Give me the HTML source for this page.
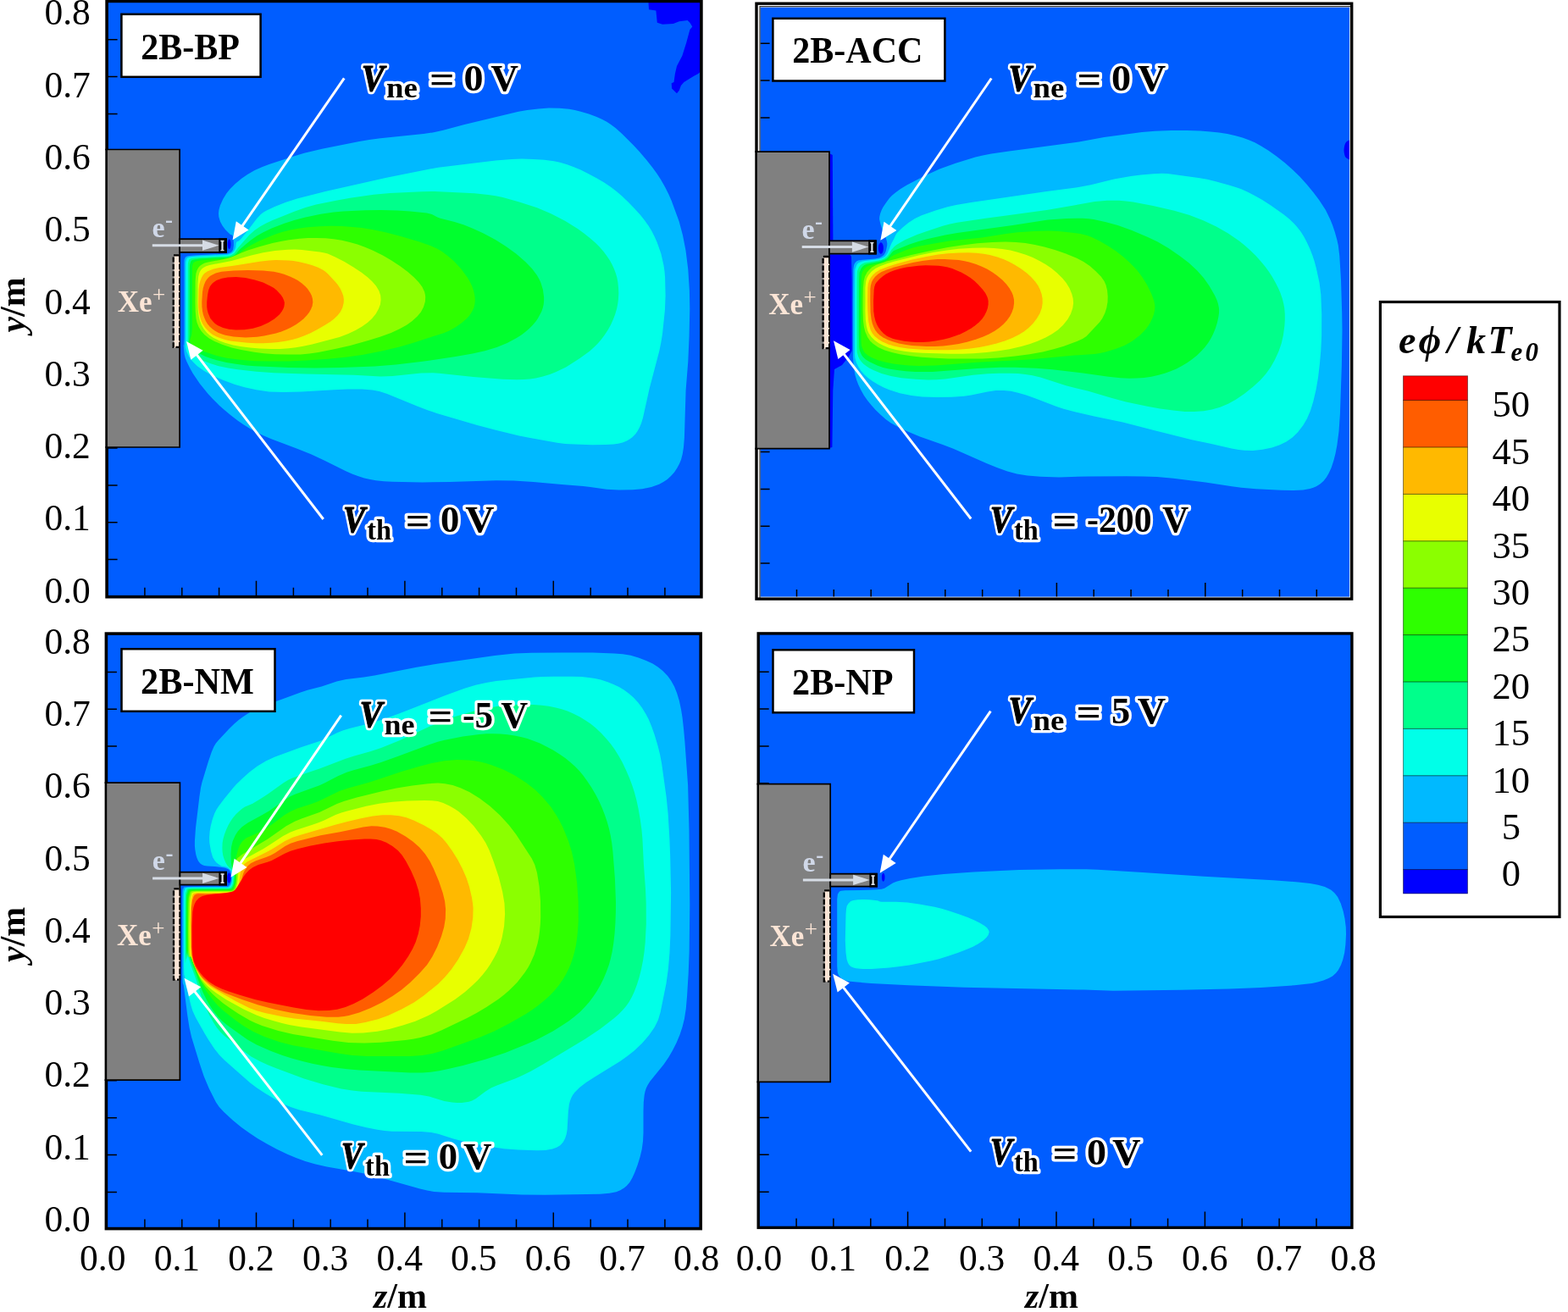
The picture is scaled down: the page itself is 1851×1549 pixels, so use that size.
<!DOCTYPE html>
<html lang="en"><head><meta charset="utf-8"><title>Plasma potential contours</title>
<style>html,body{margin:0;padding:0;background:#fff}body{width:1851px;height:1549px;overflow:hidden}svg{display:block}text{font-family:"Liberation Serif", "DejaVu Serif", serif}.tk{font-size:43.5px;fill:#000}.ax{font-size:42px;font-weight:bold;fill:#000}.lb{font-weight:bold;fill:#000}.an2{font-weight:bold;fill:#000;stroke:#000;stroke-width:1.1px;stroke-linejoin:round}.an{font-weight:bold;fill:#000;stroke:#fff;stroke-width:6.6px;stroke-linejoin:round;paint-order:stroke fill}</style></head><body>
<svg xmlns="http://www.w3.org/2000/svg" width="1851" height="1549" viewBox="0 0 1851 1549">
<rect width="1851" height="1549" fill="#fff"/>
<defs>
<clipPath id="cp1"><rect x="126.1" y="1.4" width="701.8" height="703.3"/></clipPath>
<clipPath id="cp2"><rect x="893" y="4.2" width="702.7" height="702.9"/></clipPath>
<clipPath id="cp3"><rect x="125.4" y="748.1" width="701.8" height="702.5"/></clipPath>
<clipPath id="cp4"><rect x="895.2" y="747.9" width="700.7" height="701.5"/></clipPath>
</defs>
<g id="panel1">
<g clip-path="url(#cp1)" shape-rendering="geometricPrecision">
<rect x="126.1" y="1.4" width="701.8" height="703.3" fill="#005dff"/>
<path d="M217.5 311.7L217.6 306.8L218.3 304.7L218.8 303.8L219.7 303L221.7 302.3L228.7 301.5L268.4 299.4L272.1 298.2L273.9 296.8L275.1 294.7L275.9 289.5L275.8 285L275 279.4L274.6 278.3L273.9 277.6L271.7 276.7L265.9 271.1L262.6 266.5L260 261.7L258.3 256.1L258 252L258.4 247.9L259.9 242.6L263.3 235L267.4 228.3L271.7 223L277.7 217L285.2 210.8L292.1 205.9L300.7 201.1L309.8 197L317.7 194L345.1 184.9L359.1 180.7L380.2 175.8L424.1 167L435.9 165L449.1 163.2L500 158.1L513.2 156.1L523.3 153.8L547.4 147.3L600.6 134.4L612.1 131.8L622.3 130L635.3 128.4L647.9 127.6L660.4 127.7L671.7 128.7L678.6 129.9L685.5 131.7L695 134.6L704.4 138L711 141L716.2 143.8L721.1 146.9L726.8 151.3L734.3 158L748.3 172L755 179.3L763.3 189L770.4 197.9L775.5 204.9L780.2 212.3L785.3 221.3L789.3 229.3L792.8 237.3L801.6 261.3L806 277.7L809.5 295.8L812.3 318.1L813.9 343L814.3 364.2L813.6 397.1L812.3 427.1L809.6 460.8L807.9 516.7L807 528.1L805.7 536.2L804 542.7L801.9 547.8L799.2 552.8L795.9 557.7L792 562.1L787.7 565.9L783.1 569.1L778.1 571.7L769 575L758.2 577.2L746.9 578.2L730.7 578.4L716.1 577.7L696.8 574.9L688.4 574L663.1 572.1L629.7 568.9L606.5 567.5L585.9 567.3L530.7 569L498.6 569.4L463.1 568.8L453.3 568.2L443.8 567.2L436.9 566L430 564.4L423.1 562.3L416.2 559.8L408.3 556.3L382.6 543.5L367.1 536.3L350.8 529.7L320.3 518.3L310.9 514.2L303.2 510.5L294.6 505.8L287.4 501.3L280.5 496.5L272.7 490.5L265.2 484.3L258.9 478.7L251.4 471.2L245.4 464.8L235.7 452.8L227.6 440.8L224 434.3L220.2 426.6L218.7 422.7L217.7 418.4L216.7 408L216.7 407.1L217 407.5L217.2 407.1L217.5 399.1Z" fill="#00b9ff"/>
<path d="M219.3 313.3L219.4 309.3L220.4 305.3L221.2 304.5L222.9 303.8L231.5 302.7L267.2 301L269.9 300.5L273.6 298.9L275.8 297.1L277.3 294.5L278.3 291.7L278.8 287.1L279.2 285.9L279.9 285.2L282 284.4L284.9 281.6L292.4 272.3L303.4 257.8L307.9 253.1L311.2 250.6L314.8 248.4L324.3 244L336.9 239L350.8 234.6L384.2 226.1L456.4 209.8L502.6 200.4L517.5 197.8L585.1 189.6L604.2 187.9L616 187.6L629.4 187.9L642.5 188.8L653.9 190.3L661 191.8L669.4 194.3L677.5 197.3L685.4 200.6L694.3 204.9L704.6 210.5L713.2 215.6L721.3 221.1L728.1 226.3L734.8 232.1L742.3 239.3L749.5 246.7L756.1 254.1L761.4 260.8L765.5 266.6L769.3 272.8L772.6 279.3L775.6 286L780.3 299.3L783.4 313.1L784.5 320.3L785.1 327.5L785.6 349.2L784.9 366.6L782 393.9L780.4 404.1L778.4 414.1L766.5 459.2L759.1 492.8L757.1 499.5L755 504.6L752.4 509.2L750.1 512.4L746.4 516.2L743.3 518.5L739.9 520.5L735 522.5L729.8 523.8L724.3 524.6L714.5 525.1L699.1 525.2L678.3 524.6L667.2 524L657.7 522.8L624.5 516.8L612.9 514.4L586.2 508L563.4 502.1L515.7 487.9L504.7 484.2L492.4 479.6L457 465L447.8 462.1L439.8 460.5L427.7 459.5L410.3 459.5L393.8 460.2L355.3 462.6L334.8 463.1L317.9 462.4L302.7 460.3L288.8 457.3L276.7 453.8L263.3 448.8L250 443L240.7 437.8L232.9 432.3L227.3 426.7L224.8 423.6L222.7 420.2L220.3 415.3L218.9 409.9L219.2 400Z" fill="#00ffe8"/>
<path d="M221.8 315L221.9 310.9L222.9 307L223.5 306.2L225.9 305.1L231 304.3L239.5 303.7L267.5 302.4L270.7 301.9L273.2 301.1L276.7 298.7L281 292.4L294 277.8L300.4 272.1L307.4 267.3L313.8 263.8L321.8 260.1L346.7 250L360.6 245L373.1 241.5L398.1 236.4L413.3 233.7L441.1 229.7L460.5 228.1L498.2 226.2L513.1 226L560.1 228.3L576.2 229.9L585 231.2L593.5 233L613 238.4L634 245.3L650.4 252.2L667.4 261L682.2 270.2L689.4 275.5L696.3 280.9L702.7 286.6L707.7 291.5L712.3 296.8L715.7 301.2L719.6 307.1L722.4 312.1L724.9 317.4L726.9 322.7L728.4 328.1L729.4 333.6L730 339.4L730.3 346.6L729.9 353.6L729.2 359.1L728.1 364.5L726.1 371.3L724 376.7L721 383.4L717.5 389.7L713.7 395.6L709.4 401.2L705.7 405.5L701.7 409.6L696.2 414.4L684.5 423.1L668.1 433.4L656 439.2L649.1 441.9L640.8 444.5L632.4 446.4L625.5 447.5L618.6 448L610.2 448.3L593.6 447.7L558.8 445.1L518.5 440.7L511.4 440.2L496.9 440.6L463.3 444.1L449.4 444.6L417.8 442.8L360.4 441.6L323.5 440.2L302.8 438.8L280.4 436.3L269.3 434.5L258.3 432.2L248.6 429.3L240.9 426.3L235 423L229.5 419L224.6 414.1L221.3 409.2L220.6 407.3L220.9 407.4L221.2 406.7L221.7 400Z" fill="#00ff8b"/>
<path d="M223.9 316.7L224.1 312.5L225.2 308.7L225.8 307.8L227.1 307.1L230.1 306.2L236.2 305.4L267.2 303.7L270.6 303.4L273.9 302.5L276.3 301.4L278.3 300L283.5 294.1L295.8 283.7L302.8 278.8L310.3 274.4L320.7 269.5L335.7 263.8L348.1 259.7L360.6 256.5L378.6 252.8L393.9 250.5L405 249.5L431.4 248.3L449.4 248.1L468.9 248.6L484.2 249.6L503.9 251.6L509.8 253.1L516.4 256.4L519.8 257.7L536.6 262L547.7 265.6L558.7 269.9L570.7 275.4L584.8 283L597.4 290.9L609.5 299.8L620.4 309.2L628.1 317.3L633.9 325.1L636.7 329.9L638.4 333.7L640.9 341.9L642.1 350.7L642.1 355.2L641.7 359.5L640.7 363.7L639.3 367.8L635.2 375.5L632.7 379.2L628.9 383.8L624.7 388L620.3 391.8L615.8 395.2L609.9 399L598.7 405L586.5 410L572.4 414.3L557.8 417.6L537.8 421L496.9 427.1L467.3 430.4L442.3 432.4L402.5 434.1L371.7 434.6L340.7 434.1L301 432.3L290.9 431.4L278.5 429.8L267.3 428L259 426.1L250.8 423.8L242.7 420.9L236.7 418L231.6 414.8L224.8 409.1L223 406.8L222.3 404.7L223.4 400.8L223.8 395Z" fill="#00ff2e"/>
<path d="M226.8 318.3L227 314L227.9 311.1L228.5 310L230 309L233.1 308L237.8 307.3L267.3 305.3L271.1 304.8L274.9 303.9L277.5 302.9L280 301.5L285.6 296.3L291.2 292.5L297.1 289L305.9 284.6L316.4 279.9L324.5 276.7L332.8 274.1L342.5 271.6L352.2 269.7L363.3 268.3L377.2 267.2L391.1 266.7L403.6 267L416.1 267.9L427.2 269.1L439.7 271.1L455 274.2L471.5 278.4L493.7 285L508 289.9L515.9 293.5L521.9 297L528.5 301.9L535.8 308.2L544.4 317.4L551.9 327.8L554.8 332.7L557.2 337.8L559.1 343L560 347L560.6 351L560.8 355.1L560.4 359.1L559.5 362.9L557.9 366.6L555.9 370.1L553.4 373.4L550.5 376.6L545 381.3L537.8 386.3L530.3 390.6L523.8 393.3L509.4 397.8L488.8 404.6L471.8 409.6L450.8 414.6L427.5 419L409.9 421.5L387.8 423.8L361.4 425.6L340.6 426.5L317.2 426.6L300.2 426.2L283 424.8L267.6 422.7L260.7 421.2L252.5 419.1L240.6 414.9L235.6 412.5L232.1 410.3L226.4 406.4L224.6 404.4L224.1 402L226.1 395.2L226.8 387.9Z" fill="#2eff00"/>
<path d="M230.5 356.7L230.6 331.5L231.3 323.3L232.5 319.2L234.2 316L235.9 314.1L239.2 311.8L241.8 310.6L245.7 309.4L262.1 306.5L270.4 304.6L274.5 303.1L285 298.4L292.6 295.6L306.2 291.3L321.7 287L331.4 284.9L341.1 283.3L353.6 281.8L363.3 281.1L373.1 280.9L384.2 281.3L393.9 282.3L403.6 283.8L412 285.7L422 288.6L431.4 292L440.3 295.7L451.9 301.6L462.1 307.5L472.4 314.3L481.4 321L488.8 327.5L494.5 333.4L498.4 338.8L501.1 344.5L501.9 348.1L502.2 350.7L501.9 355.9L500 362.4L496.8 368.4L492.6 373.5L486.6 379L480 383.7L471.8 388.3L461.7 392.9L448.5 397.8L435.5 401.8L413.4 408L395.6 412.1L375.8 416L365.2 417.6L354.8 418.4L339.8 418.6L324.9 418.2L311.7 417.2L300.2 415.8L284.7 413L273.5 410.4L262.2 406.8L252.8 402.8L246.9 399.4L241.2 395L237.5 390.8L234.6 386L232.5 380.8L231.4 375.6L230.7 367.3Z" fill="#8bff00"/>
<path d="M233.3 356.7L233.5 335.1L234.2 326.7L235.4 322L236.7 319.5L238.4 317.3L240.6 315.7L243.4 314.3L247.3 313L273.3 308L296.6 301.6L310.6 298.3L324.4 295.9L339.7 294.7L348.1 294.5L356.5 294.9L377.5 297.4L382.9 298.4L386.9 299.6L395.8 303.4L406.6 309.1L417.3 315.5L426.8 321.8L433.9 327.2L439.3 332.2L443.9 337.6L447.5 343.6L449.2 348.8L449.6 354.1L448.9 359.4L447 364.6L443.7 370.5L439.2 375.9L434.1 380.7L427.4 385.5L420.1 389.7L411.2 394L400.7 397.9L391.3 400.6L368.6 406.4L357.9 408.8L349.2 410.3L340.8 411.3L330.9 411.9L319.5 412L306.6 411.6L295.2 410.6L285.2 409.3L275.4 407.4L265.5 404.7L258.8 402.2L252.1 398.9L247.4 395.7L244.1 392.7L240.5 388.3L237.8 383.5L235.8 378.3L234.6 373L233.6 364.9Z" fill="#e8ff00"/>
<path d="M234.2 356.6L234.6 341.6L235.3 335.8L236.3 332L237.8 328.1L239.8 324.5L241.7 322.5L245.1 320.2L252.1 317.5L259 316.1L277.2 313.5L306.5 308.8L317.5 307.5L325.6 307L341.1 307.5L346.6 308L353.5 309.2L361.9 311.2L368.8 313.3L375.5 315.8L380.5 318.2L383.9 320.5L387 323.3L396.3 333.3L398.8 336.3L401.7 340.8L404 345.7L405.3 349.6L405.9 353.5L405.7 357.6L404.4 363L402 367.9L398.7 372.3L394.6 376.3L390.1 379.7L382.9 384.3L374.2 389.3L366.6 393.2L358.9 396.6L352.2 399L345.2 401L336.9 402.8L328.6 404L320.2 404.8L310.5 405.3L302.2 405.3L292.5 404.8L273 402.7L266.1 401.2L260.8 399.5L255.6 397.5L250.8 395L246.2 391.3L242.5 387.3L239.5 383.1L237.8 379.6L236.1 374.2L234.9 369L234.2 362.8Z" fill="#ffb900"/>
<path d="M238.3 356.6L239 344.7L239.8 340.3L241 336.1L242.5 332.5L244.1 329.9L246 327.7L248.3 325.8L250.6 324.4L254.6 322.6L261.5 320.8L275.6 319.5L292.6 319.1L310.6 319.4L323.1 320.8L330 322.2L335.3 323.8L341.7 326.2L346.7 328.4L351.5 331.1L356 334.3L360.3 338L363.1 341.1L366.1 345.4L367.9 349L369 352.9L369.3 357.1L368.6 361.2L367.1 365.1L365 368.8L362.5 372.1L358.5 376.2L354.2 379.8L349.7 382.9L343.6 386.4L338.3 389L332.8 391.2L325.8 393.4L318.8 395.1L311.9 396.5L303.6 397.7L289.7 398.4L275.7 397.6L266 395.8L262.1 394.6L258 392.9L254 390.7L250.6 388.3L247.5 385.5L245 382.5L242.9 379L241.3 375.3L239.9 371.4L239 367.2L238.4 362.1Z" fill="#ff5d00"/>
<path d="M244.2 356.6L245.1 348L246.3 342L248 338.1L249.5 335.9L251.3 334.1L255.5 331.1L261.9 328.7L268.7 327.4L278.6 327.1L289.7 328.1L300.8 330.4L310.6 333.6L319.7 337.9L323.3 340.1L326.7 342.8L331.5 347.9L333.7 351.2L335.2 354.7L335.8 357.2L335.7 359.8L335.2 362.5L334.2 365.1L332.8 367.6L330.2 370.9L327.2 373.8L323.9 376.5L316.7 381.1L307.9 384.9L298.6 387.7L288.5 389.2L278.6 389.5L270.3 388.7L263.3 387L257.1 384.2L253.8 382L251.8 380.1L248.4 375.9L245.8 370L244.7 365.9L244.2 362.1Z" fill="#ff0000"/>
<path d="M272.5 288.3C272.5 289.3 272.4 290.4 272.2 291.2C272.1 292 271.8 292.8 271.6 293.3C271.3 293.8 270.9 294.1 270.6 294.1C270.3 294.1 269.9 293.8 269.7 293.3C269.4 292.8 269.1 292 269 291.2C268.8 290.4 268.7 289.3 268.7 288.3C268.7 287.3 268.8 286.2 269 285.4C269.1 284.6 269.4 283.8 269.7 283.3C269.9 282.8 270.3 282.5 270.6 282.5C270.9 282.5 271.3 282.8 271.6 283.3C271.8 283.8 272.1 284.6 272.2 285.4C272.4 286.2 272.5 287.3 272.5 288.3Z" fill="#0000ff"/>
<path d="M765.3 0L766 11.2L774.4 12.6L775.8 26.7L782.1 28.8L794.8 28.1L801.8 25.3L811.6 23.9L814.4 26.7L817.3 31.6L814.4 35.1L810.2 50.6L805.3 66L799 78L796.9 87.1L795.5 96.9L792.7 98.3L793.1 104.6L799 110.3L801.8 106.8L803.9 101.1L807.4 96.9L818.7 89.9L824.3 87.1L828.5 82.9L828.5 0Z" fill="#0000ff"/>
</g>
<path d="M170.9 704.7V693.7M214.8 704.7V693.7M258.6 704.7V693.7M302.5 704.7V685.7M346.4 704.7V693.7M390.2 704.7V693.7M434 704.7V693.7M477.9 704.7V685.7M521.8 704.7V693.7M565.6 704.7V693.7M609.5 704.7V693.7M653.3 704.7V685.7M697.2 704.7V693.7M741 704.7V693.7M784.9 704.7V693.7M126.1 660.6H138.6M126.1 616.8H138.6M126.1 573H138.6M126.1 529.1H138.6M126.1 485.2H138.6M126.1 441.4H138.6M126.1 397.6H138.6M126.1 353.7H138.6M126.1 309.8H138.6M126.1 266H138.6M126.1 222.1H138.6M126.1 178.3H138.6M126.1 134.4H138.6M126.1 90.6H138.6M126.1 46.8H138.6" stroke="#000" stroke-width="1.5" fill="none"/>
<rect x="126.1" y="1.4" width="701.8" height="703.3" fill="none" stroke="#000" stroke-width="3.6"/>
<path d="M126.9 176.5H212.1V528H126.9Z" fill="#808080"/>
<path d="M124.3 176.5H212.1V528H124.3" fill="none" stroke="#000" stroke-width="1.7"/>
<rect x="212.1" y="282.2" width="54.9" height="15.7" fill="#808080" stroke="#000" stroke-width="1.8"/>
<rect x="258.3" y="281.3" width="9.6" height="17.5" fill="#000"/>
<path d="M260.4 283.8h4.2v1.4h-1v9.7h1v1.4h-4.2v-1.4h1v-9.7h-1z" fill="#dfe5ee"/>
<rect x="205.5" y="300.8" width="5.6" height="109.7" fill="#fbe5d6"/>
<path d="M211.1 301.4H204.7V409.9H211.1" fill="none" stroke="#000" stroke-width="2.3" stroke-dasharray="6.1 2.3"/>
<path d="M212.1 300.8V410.5" fill="none" stroke="#000" stroke-width="1.7"/>
<path d="M211.2 309.8V407.5" fill="none" stroke="#fbe5d6" stroke-width="2.0" stroke-dasharray="1.6 6.8"/>
<path d="M179.8 289.7H244.5" stroke="#d6dce5" stroke-width="3.0" fill="none"/>
<path d="M258.5 289.7L239 283.6L239 295.8Z" fill="#d6dce5"/>
<text x="179.5" y="279.7" font-size="34" font-weight="bold" fill="#d0d8e8">e<tspan dy="-11.5" dx="0.5" font-size="27">-</tspan></text>
<text x="138.7" y="368.2" font-size="35" font-weight="bold" fill="#fbe5d6">Xe<tspan dy="-11" dx="0.5" font-size="27" font-weight="normal">+</tspan></text>
</g>
<g id="panel2">
<g clip-path="url(#cp2)" shape-rendering="geometricPrecision">
<rect x="893" y="4.2" width="702.7" height="702.9" fill="#005dff"/>
<path d="M1006.9 356.3L1007.3 318.2L1008.1 313.1L1009.1 310.7L1011.4 308.2L1014 307.3L1033.1 305.5L1038.5 304.2L1041.5 302.6L1043.4 300.9L1044.8 298.8L1045.8 296.5L1047.2 289.9L1047.3 287.2L1046.8 284.4L1045.6 280.5L1043.2 275.5L1041.2 270.1L1039.3 264.2L1038.1 258.8L1038.2 256.3L1039.1 252.3L1040.7 248L1042.5 244.5L1045.7 239.7L1049.9 234.1L1053 230.8L1057.3 227.2L1063.1 223.1L1070.5 218.6L1090.7 207.9L1109.2 199.6L1128 192.7L1151.4 185.5L1160.1 183.4L1170.3 181.5L1191.2 178.5L1273.7 167.5L1303.4 162.1L1348.1 156.1L1363.7 154.8L1382.8 154L1400.7 153.9L1416.9 154.5L1428.8 155.4L1438.9 156.5L1448.8 158.1L1458.5 160.2L1466.7 162.5L1474.8 165.4L1481.3 168.3L1488.9 172.4L1497.4 177.8L1506.9 184.6L1517.1 192.6L1525.8 200.2L1534.1 208.3L1542.9 218L1550.3 226.9L1557.1 235.9L1564.8 247.8L1570.5 259.4L1573.1 266L1575.8 274L1578.3 283.1L1579.8 289.8L1581.3 302.3L1583 330.3L1584.2 369.2L1584.5 389.8L1583.9 430.9L1581.9 489L1580.5 509.5L1578.4 525.5L1576.5 535.6L1574.3 544.1L1571.6 552.2L1568.6 558.8L1565.7 563.7L1562.3 568.1L1558.3 571.6L1553.9 574.3L1550.3 575.8L1546.4 577L1538.2 578.4L1526.9 579L1512.7 578.8L1482.8 577.2L1465.4 575.7L1454.2 574.3L1423.1 569.5L1385 564.8L1365.8 563.1L1349.6 562.5L1329.1 562.3L1284.7 562.4L1250.4 563.4L1228.2 562.7L1212.9 561.4L1200.4 559.4L1189.3 556.5L1176.8 552.1L1164.5 547.1L1125.4 529.8L1112.9 525.1L1085.9 515.4L1071.6 509.5L1060.1 504L1051.4 499.2L1045.5 495L1039.9 490.1L1033.6 483.9L1028.5 478.3L1024 472.7L1019.8 466.7L1016.3 460.6L1013.2 454.1L1011.1 448.6L1009.5 443L1008.1 434.7L1006.9 421.7Z" fill="#00b9ff"/>
<path d="M1009 356.3L1009.3 319.9L1009.6 317.6L1011.5 312.4L1013.3 310.5L1017.3 308.8L1021.1 308.1L1036.5 306.3L1040.9 305.1L1044.2 303.3L1045.9 301.6L1047.9 298.6L1052.4 287.2L1055.2 282.3L1057.2 277.7L1058.9 275.1L1065.1 268.9L1072.4 263L1080.1 258L1088 254.2L1104.4 248.5L1118.6 244.3L1128.6 242.1L1146.4 238.9L1235.6 226.1L1274.5 220.8L1287.8 218.2L1315.1 211.6L1335 208L1346.8 206.5L1361.6 205.3L1371.3 204.8L1378.1 205.1L1414.7 210L1425 211.8L1435.1 214.2L1450.5 218.5L1458.7 220.9L1465.3 223.3L1473 226.7L1480.7 230.7L1489.7 235.8L1499.8 242.2L1515.4 253.2L1522.2 258.8L1527.4 263.8L1531.2 268L1535.5 273.6L1539.3 279.6L1542.7 286L1546.4 294L1549.5 302.1L1551.8 309L1554 317.4L1557.6 333.9L1559.3 347.8L1560.2 371.1L1560.1 396.5L1559.3 414.1L1557.9 429.7L1556.1 445.3L1553.6 459.7L1550.3 474L1546.9 485.1L1542.8 494.5L1538.4 502.1L1532.1 510.2L1525.7 516.4L1518.5 521.4L1510.8 525.3L1501.4 528.5L1490.3 530.8L1479 531.9L1469.2 531.8L1462.3 530.9L1453.9 529.4L1428.8 523.7L1407.1 519.2L1362.2 508.1L1325.5 498.5L1291.7 491.5L1264.1 485.1L1255.6 482.8L1247.3 480.1L1222.6 470.6L1211.5 466.6L1201.8 463.7L1193.4 461.8L1185.1 460.9L1175.4 461.1L1165.7 462.4L1146.4 466.4L1137.9 467.8L1123.4 468.8L1106.1 469.1L1088.9 468.4L1076.1 467.1L1062.3 464.2L1049.9 460.3L1043.2 457.5L1036.5 454.1L1030.3 450.3L1024.4 446.1L1020.2 442.2L1016.3 437.7L1013.3 433.1L1011 428.3L1009.4 422.4L1009.1 418.6Z" fill="#00ffe8"/>
<path d="M1011.5 356.3L1011.6 329.8L1012 320.1L1014 315.2L1015.7 313L1017.8 311.4L1020.7 310.3L1037 307.6L1041.1 306.4L1043.7 305.3L1047.1 302.7L1048.9 300.5L1052.4 294.7L1055.9 290.9L1058.4 288.9L1063.4 285.9L1068.7 283.1L1082.6 277.1L1093.4 273.2L1112.9 266.8L1121.4 264.5L1130 262.8L1163.5 257.8L1235.6 248.1L1292.3 238.1L1307.1 236.7L1320.9 236.7L1329.2 237.5L1337.6 238.6L1361.2 243L1386.2 248.8L1404.2 254.1L1420.4 260.2L1435.8 267.6L1449.8 275.5L1462.9 284.6L1469.7 290.1L1476.1 295.8L1482.3 301.8L1488.1 308.2L1493.5 314.8L1497.7 320.5L1501.5 326.3L1505.6 333.5L1508.8 339.7L1511.5 346.1L1513.8 352.8L1515.2 358.3L1516.2 363.8L1516.8 370.7L1516.8 377.7L1516.4 384.6L1514.9 395.7L1512.7 405.4L1509.5 414.8L1504.8 425.1L1500 433.5L1494.3 441.5L1487.6 448.9L1479.1 456.8L1468.8 465L1458.9 471.7L1449.8 476.8L1440.3 480.8L1430.6 483.6L1420.9 485.3L1409.8 486.1L1398.7 485.9L1384.8 484.6L1369.5 482.5L1355.6 479.9L1329.2 474.5L1312.6 470.1L1283.9 461.6L1258.4 455.3L1228.2 445.6L1218.7 443.3L1210.4 441.9L1201.8 441.1L1191.5 440.8L1179.3 440.8L1165.9 441.3L1148.6 442.8L1115.7 447.5L1105.5 448.2L1095.3 448.4L1080.9 447.8L1064.1 446.2L1051.7 444L1040.7 441L1031 437.1L1026 434.4L1022.4 432L1019.1 429.4L1016.4 426.5L1014.8 424.3L1013.1 420.7L1011.8 416.2L1011.6 411Z" fill="#00ff8b"/>
<path d="M1014 356.3L1014.1 331.5L1014.5 321.9L1016.5 316.9L1018.2 314.7L1020.3 313L1023.2 311.8L1038.5 308.8L1044.1 306.8L1046.5 305.4L1048.7 303.5L1053.1 297.8L1055 295.9L1074.3 288.3L1084.3 284.9L1094.3 282.3L1115.7 277.5L1130 274.9L1195.3 266L1237.1 259.6L1258.8 257.9L1278 257.7L1285.3 258.2L1291 258.9L1305.7 262.2L1319.5 266.1L1336.2 272.1L1355 279.9L1366.6 285.5L1379.4 293.1L1392.8 302.2L1403.3 310.2L1413 319.2L1420.8 328L1427.5 337.4L1434 348.8L1436.5 354.3L1437.9 358.5L1438.8 362.7L1439.1 365.6L1439 369.8L1438.4 374.1L1436.9 381L1434.8 387.8L1432.1 394.3L1429.6 399.3L1426.6 404.2L1422.3 409.9L1418.4 414.3L1413.1 419.4L1407.5 424L1401.5 428.3L1395.2 432.1L1388.7 435.4L1381.9 438.3L1375 440.8L1367.8 442.8L1359.2 444.7L1350.5 445.9L1341.8 446.6L1333.1 446.7L1322.9 446.2L1308.5 444.8L1278.3 440.5L1242.3 436.2L1223 434.8L1198 433.7L1180.4 433.8L1153.7 434.9L1100.7 438.9L1090.7 439.1L1080.6 438.9L1069.1 438.2L1059.1 437.1L1049.2 435.5L1042.5 433.9L1035.6 431.5L1026.5 427.3L1021.7 424.3L1018.8 421.6L1017.3 419.6L1016.2 417.3L1014.7 413.5L1014.2 409.9L1013.9 394.5Z" fill="#00ff2e"/>
<path d="M1016.5 356.3L1016.9 325.3L1017.3 322.8L1018.5 319.9L1020.1 317.4L1022.9 314.9L1026.5 313.2L1040 310.2L1044.8 308.5L1048.1 306.7L1052.1 303.1L1055 301.3L1068.7 295.6L1077.2 292.6L1085.7 290.4L1120 284.5L1159.2 280.4L1187.5 276.1L1201.4 274.3L1220.7 272.9L1237.1 272.6L1249.5 273.1L1263.7 274.4L1275.3 276.1L1283.5 278L1289.9 280.4L1298 284.4L1307.5 289.9L1317.1 296.3L1326.4 303.5L1334.1 310.4L1342.3 319.1L1348.5 327.2L1354.5 337L1359.5 347.5L1362.4 355.6L1363.2 359.7L1363.4 362.5L1363 366.7L1362.1 370.9L1360.6 375.1L1358.1 380.5L1355.8 384.3L1353.1 387.9L1350.2 391.3L1346 395.4L1337 402.4L1332.3 405.3L1327.3 407.9L1316.9 412.1L1304.4 415.8L1297.3 417.3L1291.8 418.1L1265.9 419.7L1215.2 424.6L1153.3 427.8L1104.5 431.4L1084.4 431.9L1072.7 431.4L1062.6 430.6L1054.3 429.5L1044.7 427.5L1036.4 425.2L1029.7 422.6L1025 420L1020.8 416.4L1019.3 414.1L1017.5 410.1L1017 408L1016.6 404.1L1016.3 389.5Z" fill="#2eff00"/>
<path d="M1018.6 355.3L1018.9 339.9L1019.7 331.5L1021 326.5L1023.6 321.6L1026.4 318.2L1029.8 315.3L1034.4 312.8L1048 308.2L1075.9 301L1095.3 296.7L1118.9 292.1L1135.6 289.4L1153.6 287.3L1171.7 285.9L1186.9 285.6L1199.4 286L1210.5 287.1L1221.7 288.9L1232.8 291.4L1245.2 294.9L1257.5 299.2L1271 304.7L1279.1 308.9L1286.5 314.1L1293.5 320.2L1299.7 326.5L1303.6 332L1305.6 336.7L1307.1 343.1L1307.7 349.9L1307.5 356.6L1306.3 363.4L1304.3 369.8L1301.2 376L1298 380.6L1282.5 396.9L1278 400L1271.3 403.1L1255.8 408.7L1244.7 412.1L1230.9 415.5L1215.4 418.3L1198.2 420.6L1178.2 422.4L1159.6 423.4L1139.6 423.6L1119.6 423.4L1103.9 422.8L1088.2 421.7L1075.3 420.3L1062.4 418.3L1052.7 416.1L1044.4 413.5L1036.7 409.9L1030.9 406.1L1027.1 402.4L1024.1 398L1021.4 391.8L1020 386.2L1019 379L1018.6 367.1Z" fill="#8bff00"/>
<path d="M1021.5 355.3L1021.4 339.8L1022.2 332.3L1023.4 328.3L1025.3 324.7L1028.9 320.5L1033.4 317L1038.4 314.4L1046.9 311.2L1055.2 308.8L1084.5 301.5L1101.2 298L1117.8 295.4L1131.7 293.8L1148.4 292.7L1162.2 292.4L1173.3 292.9L1183.1 293.9L1192.8 295.6L1201.2 297.7L1210.9 300.8L1219.2 304.1L1227.1 307.9L1234.6 312.2L1241.6 317.1L1248.1 322.5L1254.2 328.5L1258.7 334L1262.5 340.3L1265.3 347.1L1266.7 352.5L1267.1 358.1L1266.3 363.7L1264 370.6L1260.4 377L1255 383.8L1248.9 389.5L1242 394.3L1234.4 398.5L1224.9 402.7L1215.3 406.3L1205.7 409.1L1191.7 412.2L1179 414.3L1164.7 416L1148.9 417.3L1136.1 417.8L1121.8 417.8L1088.9 416.7L1077.4 415.9L1067.4 414.7L1057.7 412.9L1049.4 410.7L1042.8 408.1L1037.5 405.2L1032.9 401.9L1028.8 398L1025.6 393.6L1024.1 389.9L1022.8 384.7L1021.8 377.6L1021.4 367.1Z" fill="#e8ff00"/>
<path d="M1024 355.3L1024.2 339.8L1024.8 335.2L1026 331.2L1028.1 327.5L1030.8 324.2L1034.3 321.2L1039.2 318.3L1048.9 314.5L1059.9 311L1076.7 306.6L1093.4 303L1107.3 300.6L1118.4 299.2L1130.9 298.4L1143.4 298.2L1153.1 298.7L1161.5 299.7L1168.4 301L1176.6 303.2L1184.6 306.1L1191.2 309L1197.6 312.5L1204.9 317.1L1211.9 322.3L1217.2 327.1L1222.1 332.5L1225.3 337.1L1227.8 342L1229.6 347.2L1230.6 352.5L1230.7 358.1L1229.8 363.7L1227.4 370.2L1223.8 376.3L1219.4 381.9L1214.4 386.9L1209 391.2L1203 395L1195 399L1186.9 402.2L1177.3 405.2L1166.3 408.1L1156.4 410.1L1143.7 411.7L1131 412.8L1119.7 413.3L1107 413.3L1092.9 413L1081.6 412.3L1071.7 411.4L1061.8 409.9L1054.9 408.4L1047.9 406.2L1041.3 403.3L1036.6 400.3L1032.3 396.7L1029.8 393.6L1027.9 390L1026.6 386.1L1025.4 380.5L1024.8 376.1L1024.2 365.7Z" fill="#ffb900"/>
<path d="M1027.3 355.3L1027.4 341L1027.9 337L1029 333L1030.7 329.7L1033.3 326.5L1036.7 323.6L1040.6 321.1L1046.8 318.4L1056.6 315.3L1066.4 312.7L1077.6 310.1L1088.7 308.1L1098.4 306.7L1106.7 306L1115 306L1131.8 307L1138.7 308.2L1144.2 309.5L1152.3 312L1159.1 314.7L1165.5 317.8L1171.6 321.4L1177.2 325.4L1183.5 330.7L1188.2 335.7L1191.6 340.2L1194.3 344.9L1195.8 348.6L1197 353.8L1197.1 357.9L1196.3 363.4L1194.6 368.6L1192.1 373.5L1188.7 378.2L1184.8 382.5L1179.6 387L1173.8 391L1167.4 394.6L1160.7 397.6L1152.6 400.6L1141.6 403.8L1131.8 406L1123.4 407.3L1113.4 408.4L1103.6 408.9L1093.7 408.9L1076.7 408L1069.6 407.1L1061.2 405.4L1052.9 403.1L1047.6 401.1L1042.6 398.6L1038.9 396L1035.7 393L1033.2 389.7L1031.3 386L1029.8 381.9L1028.6 376.8L1027.6 368.6Z" fill="#ff5d00"/>
<path d="M1031.1 355.3L1031.7 342.3L1032.3 338.6L1033.3 335.6L1034.6 333.4L1038.2 329.4L1042.4 325.9L1046 323.5L1051 321.1L1056.3 319.1L1063.2 317.1L1070.2 315.6L1084.2 313.8L1092.6 313.3L1101 313.4L1108 313.7L1113.4 314.4L1118.7 315.5L1124 317L1134.6 321.5L1140.9 324.9L1145.6 328L1150.1 331.4L1154.3 335.5L1160 341.7L1163.2 346L1165.1 349.7L1166.1 352.4L1166.6 355.2L1166.6 359.5L1165.9 363.7L1164.5 367.8L1162 372.8L1159.6 376.3L1155.7 380.5L1151.2 384.3L1146.7 387.5L1140.6 391L1134.1 394.2L1127.3 396.8L1120.6 399L1113.7 400.7L1105.4 402.3L1097 403.4L1088.7 404L1081.7 404L1074.7 403.6L1067.6 402.8L1056.5 400.5L1052.6 399.3L1049 397.7L1046.3 396.2L1042.8 393.4L1039.8 390.3L1037.2 386.8L1035.1 382.9L1033.5 378.9L1032.1 373.2L1031.3 367.2Z" fill="#ff0000"/>
<path d="M979 300.5L1003.5 300.5L1005 303L1005.6 330L1005.7 414L1002 421L994 431L985 436L983.3 461L982.4 528L979 529Z" fill="#0000ff"/>
<path d="M979 181L982.8 183L983.4 284L979 284Z" fill="#0000ff"/>
<path d="M1042.9 293C1042.9 294.1 1042.7 295.4 1042.5 296.4C1042.2 297.3 1041.8 298.2 1041.4 298.8C1041 299.4 1040.4 299.7 1039.9 299.7C1039.4 299.7 1038.8 299.4 1038.4 298.8C1038 298.2 1037.6 297.3 1037.3 296.4C1037.1 295.4 1036.9 294.1 1036.9 293C1036.9 291.9 1037.1 290.6 1037.3 289.6C1037.6 288.7 1038 287.8 1038.4 287.2C1038.8 286.6 1039.4 286.3 1039.9 286.3C1040.4 286.3 1041 286.6 1041.4 287.2C1041.8 287.8 1042.2 288.7 1042.5 289.6C1042.7 290.6 1042.9 291.9 1042.9 293Z" fill="#0000ff"/>
<path d="M1597 166C1596.1 163.2 1591.3 166.3 1590 167C1588.7 167.7 1588 169.5 1587.5 171C1587 172.5 1586.4 176.1 1586.5 178C1586.6 179.9 1587.3 183.7 1588 185C1588.7 186.3 1590.8 187.6 1592 188C1593.2 188.4 1596.3 190.9 1597 188C1597.7 185.1 1597.9 168.8 1597 166Z" fill="#0000ff"/>
</g>
<path d="M940.5 707.1V696.1M984.3 707.1V696.1M1028.2 707.1V696.1M1072 707.1V688.1M1115.8 707.1V696.1M1159.7 707.1V696.1M1203.5 707.1V696.1M1247.4 707.1V688.1M1291.2 707.1V696.1M1335.1 707.1V696.1M1379 707.1V696.1M1422.8 707.1V688.1M1466.7 707.1V696.1M1510.5 707.1V696.1M1554.3 707.1V696.1M893 665.1H908.6M893 621.3H908.6M893 577.5H908.6M893 533.6H908.6M893 489.8H908.6M893 445.9H908.6M893 402.1H908.6M893 358.2H908.6M893 314.3H908.6M893 270.5H908.6M893 226.6H908.6M893 182.8H908.6M893 138.9H908.6M893 95.1H908.6M893 51.2H908.6" stroke="#000" stroke-width="1.5" fill="none"/>
<rect x="895" y="6.2" width="700.7" height="700.9" fill="none" stroke="#fff" stroke-width="5"/>
<path d="M897 707.1V7.6H1595.7" fill="none" stroke="#333" stroke-width="1.2"/>
<rect x="893" y="4.2" width="702.7" height="702.9" fill="none" stroke="#000" stroke-width="3.4"/>
<path d="M893.8 179.1H979V529.6H893.8Z" fill="#808080"/>
<path d="M891.2 179.1H979V529.6H891.2" fill="none" stroke="#000" stroke-width="1.7"/>
<rect x="979" y="284.3" width="54.9" height="15.3" fill="#808080" stroke="#000" stroke-width="1.8"/>
<rect x="1025.2" y="283.4" width="9.6" height="17.1" fill="#000"/>
<path d="M1027.3 285.9h4.2v1.4h-1v9.3h1v1.4h-4.2v-1.4h1v-9.3h-1z" fill="#dfe5ee"/>
<rect x="972.4" y="302.4" width="5.6" height="109.4" fill="#fbe5d6"/>
<path d="M978 303H971.6V411.2H978" fill="none" stroke="#000" stroke-width="2.3" stroke-dasharray="6.1 2.3"/>
<path d="M979 302.4V411.8" fill="none" stroke="#000" stroke-width="1.7"/>
<path d="M978.1 311.4V408.8" fill="none" stroke="#fbe5d6" stroke-width="2.0" stroke-dasharray="1.6 6.8"/>
<path d="M946.7 291.6H1011.4" stroke="#d6dce5" stroke-width="3.0" fill="none"/>
<path d="M1025.4 291.6L1005.9 285.5L1005.9 297.8Z" fill="#d6dce5"/>
<text x="946.4" y="281.8" font-size="34" font-weight="bold" fill="#d0d8e8">e<tspan dy="-11.5" dx="0.5" font-size="27">-</tspan></text>
<text x="907.2" y="370.8" font-size="35" font-weight="bold" fill="#fbe5d6">Xe<tspan dy="-11" dx="0.5" font-size="27" font-weight="normal">+</tspan></text>
</g>
<g id="panel3">
<g clip-path="url(#cp3)" shape-rendering="geometricPrecision">
<rect x="125.4" y="748.1" width="701.8" height="702.5" fill="#005dff"/>
<path d="M215.3 1150L215.2 1080.3L215.4 1054.8L215.7 1049.3L216.2 1049.9L216.7 1048L217.2 1047.4L222 1046.9L268.7 1046.7L269.4 1046.5L271.4 1044.3L272.3 1042L272.8 1039.7L273 1034.8L272.7 1031.1L271.3 1028L269.5 1026.2L265.7 1024.8L259.8 1023.7L253.7 1022.9L244.9 1022.5L241.1 1022L238.6 1021.1L236.4 1019.6L234 1016.4L232.4 1012.8L231.3 1009L230.3 1003.1L229.9 998.7L229.9 993.3L231 977.2L235.4 940.8L237 930L238.5 923.6L245.8 899.5L249.7 888L252.6 881.2L254.9 877.6L257.6 874.3L270.2 860.7L276.3 854.7L281.5 850.2L286.2 846.8L292.1 842.8L297.3 839.8L305.2 836.1L313.2 832.7L354.8 817.4L363 814.8L379.7 810.4L397.5 804.6L408.6 802.1L429.6 799.5L442.1 797.5L491.9 787.8L517.4 783.4L584 773.9L607.4 771.5L627.7 770.7L663 770.4L699.6 770.6L725 771.4L735.1 772.2L744.5 773.8L753.7 776.5L762.8 779.9L770.5 783.6L776.7 787.4L782.3 791.9L788.1 797.9L792.1 803.5L796 810.6L799.1 818.3L801.9 827.6L804 837.5L805.6 847.6L807.1 860.9L808.4 875.5L812.1 926.7L813.5 979.2L814.3 1067.9L813.7 1123.1L812.7 1148.9L811.1 1175.4L809.8 1190.8L807.9 1202.9L805.6 1212.3L802.4 1221.9L798.5 1231.3L793.8 1240.6L789.3 1248.2L783.5 1256.8L767.3 1276.7L764.5 1281.2L762.8 1284.8L761.6 1288.6L760.7 1292.7L759.8 1301.3L759.5 1312L759.5 1337.6L759 1347.6L757.7 1357.1L755.5 1366.2L752.6 1375.4L749.1 1384.7L746.2 1391.1L743.3 1395.9L739.8 1400L736.8 1402.6L732.3 1405.3L727.4 1407.2L719.5 1408.8L708.3 1409.7L643.4 1410.8L615.9 1410.4L563.7 1408.2L524.1 1407.7L512.6 1406.9L504.2 1405.5L495.7 1403.5L453.9 1391.7L430 1385.6L414.3 1382.4L385.7 1377.6L371.5 1374.3L360.3 1370.9L349.4 1366.9L338.7 1362.5L326.7 1356.8L315.1 1350.6L303.9 1344L294.2 1337.6L284.7 1330.7L274.4 1322.2L264.4 1312.9L258.8 1306.9L254.9 1301.3L246.7 1284.9L240.7 1270.7L235.6 1255.6L226.1 1224.4L223.5 1212.9L221.2 1198.3L216.8 1163.5L215.7 1160.6Z" fill="#00b9ff"/>
<path d="M217 1140L216.9 1076.7L217.1 1057.4L217.4 1051.8L218.2 1051L218.4 1049.3L218.8 1048.5L221.5 1048L228.9 1047.7L269.6 1047.7L271 1047L272.6 1045.1L273.9 1041.3L274.4 1033.4L274.3 1030.7L273.2 1028.5L271.4 1026.5L268 1024L266.8 1023.5L261.4 1022.4L257.9 1020.2L255.6 1018.4L253.5 1016.1L251.2 1012.2L249.1 1005.3L247.3 995.1L247.1 989.1L247.6 982L248.7 975.3L250.8 967.3L253.2 960.6L255.7 955.4L258.2 951.7L264.2 943.8L274.6 931L278.7 926.3L285.7 919.5L294.6 911.4L303.9 904.4L313.9 898.5L324.1 893.8L356.1 881.9L378.2 874.7L384.8 871.8L397.8 865.3L404.5 862.5L412.8 860L437.8 853.7L454 848.7L473.7 841.5L525.1 821.3L548.4 812.8L561.6 808.8L574.2 806L585.8 804.1L631.3 799.6L641.1 799L654.1 798.7L674.8 798.7L686.4 799.1L695 799.9L702.1 801L709.1 802.6L717.4 805.3L724.2 808L730.7 811.1L736.9 814.8L742.6 818.9L747.8 823.6L753.5 829.8L757.8 835.5L762.4 842.9L765.7 849.3L769.1 857.4L772.5 866.9L776.2 879.3L779 890.3L781.1 901.5L786.5 939.9L788.6 960.5L790.4 990.2L791.2 1011.6L792.1 1054.1L791.4 1103.8L790.5 1124.4L788.9 1143.5L786.5 1161L779.7 1194.8L777 1203.9L772.7 1212.7L766.3 1222L757.9 1231.7L748.4 1240.7L740.4 1247.1L732 1253.1L702.8 1270.9L691.9 1278L684.1 1284L678.4 1289.8L676 1293L674.2 1296.5L672.8 1300.2L671.8 1304.2L670.8 1312.4L669.6 1333.7L668.7 1339.1L667.1 1344.1L664.7 1348.5L661.3 1352.2L657 1354.8L652.1 1356.6L643.9 1357.9L634 1358.3L611.6 1357.5L594.9 1356.2L576.9 1353.5L547.7 1347.7L535.3 1344.5L517.4 1338.8L509.1 1337L497.6 1336.1L462.8 1335.8L454 1335L445.4 1333.8L432.8 1331.3L417.1 1327.5L378.6 1316.6L352.9 1310.2L343.2 1307.1L335.2 1303.7L326.3 1298.8L312.5 1290.5L302.7 1284L295.7 1278.8L264.8 1251.5L258.9 1245.5L253.3 1238.4L246.2 1227.8L241.8 1220.5L231.2 1201.8L227.5 1193.7L225.7 1188.1L223.5 1179.3L220.5 1166.2L218.3 1153.7L217.4 1150.8Z" fill="#00ffe8"/>
<path d="M218.7 1135L218.7 1064L219 1054.9L219.3 1053.5L220 1052.3L220.2 1050.5L220.5 1049.6L223 1049L226.2 1048.8L269.6 1048.7L271.2 1048.4L273 1047.1L274.3 1044.5L275.1 1041.7L275.9 1032.2L275.7 1029.7L274.6 1027.5L270.3 1024L268.3 1021.7L266.3 1018.2L264.6 1014.2L263.3 1010L262.6 1005.6L262.4 1001.1L262.6 995.2L263.4 990.8L265 985L267 979.7L269.4 974.5L272.1 969.7L275.2 965.3L278.6 961.2L281.5 958.4L285.5 955.1L288.8 952.8L298.2 948.7L307.7 943.1L316.2 937.4L334.3 924.5L340.4 920.8L345.5 918.4L353.4 915.4L377.3 907.4L408 895.7L417.4 892.7L437.8 887L449.9 883L472.2 873.9L507.5 857.6L520.9 851.8L535.5 846.6L558.8 839.7L568.6 837.3L578.3 835.4L589.4 833.6L599.1 832.5L608.8 831.9L619.9 831.7L629.7 831.9L639.4 832.7L647.7 833.8L656.1 835.4L663 837.2L669.9 839.6L676.7 842.4L684.7 846.5L691.1 850.4L697.2 854.6L703 859.3L709.4 865.3L715.4 871.7L720.9 878.3L725.9 885.2L730.4 892.4L734.5 899.8L738.9 908.9L743 918.4L746.1 926.7L748.8 935L751.4 944.7L753.5 954.4L755.7 966.9L757.4 979.3L758.4 990.2L759.9 1020.4L762 1049.8L762.7 1066.2L762.8 1091.1L761.7 1112.8L760.5 1124.3L759 1134.3L757 1144.3L754.5 1154.2L751.9 1162.6L748.8 1170.8L745.8 1177.3L742.2 1183.5L738.8 1188.2L735.1 1192.6L730 1197.7L724.5 1202.6L708.3 1215L691.1 1226.4L641.2 1256.4L627.1 1264.5L618 1269.1L608.7 1273.3L586.6 1281.5L580.1 1284.3L573.2 1288.4L561.9 1297.1L557.3 1299.5L553.5 1300.7L545.2 1301.9L539.4 1301.9L533.7 1301.6L524.3 1299.9L506.4 1294.5L496.5 1292.8L471.2 1290.7L427.1 1288.7L415.7 1287.5L402.9 1285.4L381.4 1280.3L358.9 1273.5L326.7 1261.6L316 1257.3L306.8 1253.1L296.6 1247.4L287.1 1240.6L265 1223.1L260 1218.3L256.1 1213.6L252.2 1207.5L247.3 1198.7L244.1 1192.2L240.6 1184.2L237.6 1175.9L231.5 1156.5L225.5 1140L221.2 1126.2L220.5 1125L220.1 1125.8L219 1137.3Z" fill="#00ff8b"/>
<path d="M219.8 1130L219.6 1100.3L219.8 1066L220.3 1056.4L221.3 1053.5L221.7 1051L222.4 1050.4L224.5 1050L229.1 1049.7L270 1049.8L272.1 1049.5L273.9 1048.2L275.1 1046.1L276.2 1042.4L276.9 1031.9L276.5 1028L276 1026.7L273.8 1023.3L272.9 1019.2L272.5 1008.5L273.1 999.7L274.7 993.1L278 985.8L280.9 981.2L285.7 976.2L292.4 971.4L310.2 961.8L318 957.2L338.2 943L343.1 940.1L348.2 937.7L377.2 927.2L383.6 924.2L398.9 916.2L409.4 911.8L417.4 909.2L437.8 903.7L449.9 900L469.5 893.1L507.2 879L516.8 875.8L524.9 873.7L546.4 869.4L565.8 866.9L574.1 866.3L582.4 866.2L590.8 866.5L599.1 867.2L607.4 868.5L615.8 870.2L622.6 872.1L630.7 874.9L637.3 877.6L645.1 881.4L652.8 885.6L660.3 890.2L667.6 895.3L673.3 899.9L678.7 904.8L683.8 910.1L688.4 915.6L693.4 922.4L698.1 929.5L703.1 938L707.1 945.7L710.7 953.7L713.9 961.9L716.7 970.2L719 978.5L720.8 986.8L722.2 995.1L723.4 1004.9L725.9 1037L727 1065.1L726.9 1076.9L726.4 1090.2L725.6 1101.8L724.3 1113.4L722.7 1123.4L720.8 1131.9L718.9 1138.9L716 1147.1L712.7 1155L708.9 1162.8L704.6 1170.2L700.6 1176.3L695.4 1183.2L690.7 1188.6L684.7 1194.7L678.2 1200.3L671.4 1205.5L663 1211.1L653.1 1217.2L644.2 1222.1L633.7 1227.4L622.8 1232.3L596.4 1242.9L572.8 1250.8L546.5 1257.9L530.3 1261.8L518.5 1264.2L508.4 1265.8L498.6 1266.6L484.3 1266.6L424.3 1263.5L410 1262.2L391.4 1259.9L380 1258.1L368.6 1255.8L357.2 1253.1L344.4 1249.5L333.4 1245.9L320 1240.9L302.9 1233.6L291.8 1227.3L267.7 1210L262 1205.2L257.9 1201.1L252.4 1194.2L247 1186L243.4 1179.6L239.7 1171.9L236.3 1163.8L231.5 1150L225.4 1134.2L221.8 1120.4L221.5 1120L221.1 1120.9L220.1 1131.9L219.9 1132.3Z" fill="#00ff2e"/>
<path d="M221 1128L220.8 1093.8L221.1 1064.4L221.5 1058.4L223.2 1052L224 1051.5L226 1051L230.6 1050.7L271.1 1050.8L273.1 1050.4L275 1049.2L275.7 1048L276.7 1045.4L277.8 1040.2L278 1034.8L277.4 1019.4L278.9 1011L281.5 1001.5L282.9 997.9L286.1 993.3L289.2 990.5L291.3 989.1L298.4 986.1L305.8 982.5L314.5 977.7L321.9 972.8L335.8 962.2L343.1 957.9L350.8 954.6L368 949.1L375.9 946.1L400.5 934.1L410.1 930.8L436.4 923.5L475.5 910.4L495.2 904.8L509.8 901L524.8 898.2L539.5 897.1L553.3 897.5L560.2 898.3L567.2 899.5L574.1 901.2L581 903.4L594.7 908.8L607.8 915.5L621.3 924.2L631.6 932.3L640.9 941.4L650.2 952.6L657.4 963.5L660.9 969.8L664.8 977.6L670.9 992.4L675 1005.7L678.2 1020.7L681.2 1042.8L682.7 1065.1L682.8 1087.3L682.2 1097.5L681.2 1107.6L679.9 1116.2L678.3 1123.4L676.4 1130.4L674.1 1137.2L671.4 1143.7L667.7 1151.1L664.1 1157.1L660.1 1162.8L654.8 1169.3L648.9 1175.4L642.5 1181.2L634.8 1187.6L627.9 1192.6L620.6 1197.3L600.5 1208.8L583.5 1217.4L565.8 1225L522.6 1240.4L510.1 1244L498.8 1245.9L484.4 1246.9L432.8 1246.9L415.7 1246L401.4 1244.1L345.7 1234.3L330.1 1230.2L312.1 1223.9L298.9 1218L287.5 1211.2L278.9 1205.2L269.6 1198.1L261.9 1191.8L256.7 1186.7L251.1 1180.3L245.2 1172.5L241.1 1166.2L236.8 1158.6L233.7 1151.8L228.3 1137.9L225.5 1130L222.8 1120.4L222.5 1120L222.1 1121.1L221.3 1129.7L221.1 1130.4Z" fill="#2eff00"/>
<path d="M222.3 1125L222 1100.7L222.4 1066.9L222.9 1059.8L224.8 1053.1L225.6 1052.5L227.5 1052L230.8 1051.7L271 1051.8L273.2 1051.7L275 1051L276.1 1050.1L277.4 1047.5L278.6 1043.2L279 1040.4L279.3 1034.7L279 1024.7L278.3 1019.2L278.6 1016.3L279.2 1014.8L280.8 1012.7L285.9 1008.7L316.2 990.4L337.9 975.3L348.1 969.8L356 966.6L377.2 959L397.8 949.1L405.9 945.9L421.2 941.4L451.8 933.9L468.1 930.5L486.8 927.5L505.4 925.2L517 924.6L525.2 925.2L534.4 927.1L543.6 930.3L554 935.1L566.1 942.5L578.4 951.8L589.9 962.2L600.7 973.9L609.3 985.3L627.7 1013.4L631.3 1020.9L634 1030.6L636.6 1046.6L638 1064L638.2 1082.8L637.8 1091.4L637 1100L636 1107.2L634.5 1114.3L630.7 1127L626 1137.6L623.3 1142.5L619.5 1148.3L610.8 1159.4L605.9 1164.6L600.8 1169.6L595.3 1174.3L588.6 1179.5L574.3 1189.1L563 1195.7L551.3 1202L521 1216.5L509.1 1221.4L496.3 1224.9L487.4 1226.7L478.6 1228L449.6 1230.8L430 1231.6L411.4 1231L392.9 1228.8L345.7 1221L328.6 1216.9L309.4 1210.9L301.5 1207.8L295 1204.8L281.3 1196.8L272.7 1191.1L263.1 1184.2L256.4 1178.6L251.1 1173.8L242.6 1164.7L237 1157L232.6 1148.1L225.5 1130L224.5 1129.4L223.6 1130.1L222.8 1129.6Z" fill="#8bff00"/>
<path d="M223.8 1122L223.6 1090.4L224 1066.7L224.8 1060L226.4 1054.5L227.2 1053.7L230 1053L232.3 1052.8L272.7 1052.8L275 1052.4L276 1052L277 1051.2L278.4 1048.9L280.3 1042.6L282.1 1020.9L283.2 1018.4L285 1016.5L287 1015.2L311.1 1002L319.8 996.6L334.2 987.1L342.9 982.5L349.4 980L368 974.1L376 971.3L382.7 968.5L396.1 962.1L403 959.4L410 957.4L432.4 951.8L447.6 948.8L463.5 946.7L480.5 945.5L501.2 945L509.9 945.2L516.8 946.1L523.2 947.9L530.7 951.4L536.8 955L541.6 958.3L550.5 965.9L559.5 975.5L568 986.8L573.3 995.1L577.7 1004L582.9 1017.7L588.8 1035.4L593.1 1052.6L595.5 1066.6L596.1 1079.1L595.1 1093.6L592.7 1106.7L590.8 1113.8L588.8 1119.2L586.6 1124.5L583.3 1130.8L578.9 1138.2L574.9 1144.2L569.6 1151L563.8 1157.4L556.7 1164.3L549.1 1170.9L537.5 1179.7L515.6 1193.6L504.5 1199.6L490.3 1205.7L475.6 1210.6L459.6 1215L445.4 1217.7L428.6 1219.5L415.7 1219.7L401.4 1218.6L355.7 1212.4L341.4 1210.1L332.9 1208.1L323 1205.3L312 1201.9L302.7 1198.4L288 1191.7L267.1 1180.2L254.7 1172.1L249 1167.7L244.9 1163.9L240.8 1159.6L238.1 1156.3L235.7 1152.8L233.6 1148.8L228.7 1138L225.7 1130L225.2 1129L224.5 1128.4L224 1125.7Z" fill="#e8ff00"/>
<path d="M225 1120L224.8 1087.9L225.2 1069.2L226.1 1061.5L227.3 1057L227.9 1055.8L228.8 1055L231.5 1054.2L233.9 1054L243.2 1054.2L272.5 1053.8L276 1053.4L278.1 1052.1L279 1051L281.2 1045.5L282.2 1041.5L283.9 1029.5L285.5 1024.6L286.7 1022.3L288.2 1020.2L292.1 1017.2L315.7 1005.5L322.4 1001.7L336.3 993.1L345.4 988.8L354.7 985.8L395.7 973.7L410 969.9L427.1 965.9L440 963.4L451.4 962.3L461.4 962.2L471.4 963.3L479.9 965.3L488.3 968.4L500.2 974.2L509.8 979.7L516.2 984.3L522.2 989.6L527.7 996L534.1 1005L540.5 1015.3L545.8 1025.4L550.6 1036.6L554 1046.8L557 1059.8L558.1 1066.8L558.6 1072.3L558.3 1083.2L556.5 1095.8L553 1108.5L548.5 1119.1L540.9 1132.8L532.7 1144.8L525.1 1153.8L517.5 1161.4L500.2 1175.5L488.8 1183.5L474.2 1191.6L458.2 1198.9L446.3 1203.2L431.4 1207.1L420 1208.9L408.6 1209.1L398.6 1208.3L378.6 1205.7L347.1 1202.6L334.3 1200.6L312.9 1195.9L302.9 1193.3L294.7 1190.2L278.7 1182.3L262.3 1173L248.2 1164.4L245 1162L241.5 1158.8L237.7 1154.4L234.5 1149.7L231.8 1144.9L229.5 1140L228 1135.9L225.3 1126.1Z" fill="#ffb900"/>
<path d="M225.8 1118L225.6 1090.2L226 1071.4L227 1063.2L228.4 1058.8L229.6 1056.7L232 1055.6L234.1 1055.2L245 1055.4L267.8 1054.8L273.7 1054.9L276 1054.7L278 1054L279.9 1052.2L281.8 1048.5L283.7 1043.5L287.1 1031.6L288.7 1028L292.3 1022.6L296 1019.2L302.1 1016.2L314.2 1012.1L319.7 1009.8L324.7 1007L336.6 998.9L343 995.7L351.4 993L378.6 986.2L401.4 982.2L428.6 976.6L438.6 975.3L445.7 975.4L454.3 976.7L461.3 978.7L468.2 981.6L478.8 987.4L487.3 993.4L495 1000.2L501.7 1008.1L507.3 1016.5L511.8 1025.4L518.1 1040.4L522.8 1054.5L525.1 1064.1L526.1 1073.6L525.8 1084.6L524.2 1094.4L521 1105.6L516.1 1118L510.3 1129.5L504.2 1138.9L495.8 1148.6L484.2 1160.1L473.9 1168.7L463.4 1176.1L451 1183.5L437.7 1190.1L424 1195.5L411.7 1199.1L406.1 1200.1L399.3 1200.8L385.6 1200.8L366.1 1199.1L343.9 1195.8L324.4 1191.7L305 1186.4L285.6 1180L265.9 1172.5L256.9 1168.1L248.8 1163L242.1 1157.6L239.2 1154.7L236.3 1151.2L231.7 1143.8L229.8 1140L228.3 1136L226.5 1128Z" fill="#ff5d00"/>
<path d="M226.7 1118L226.6 1093.4L227.4 1076.6L228.3 1071.7L229.7 1067.3L231.6 1063.7L234.3 1060.8L236.4 1059.3L238.8 1058.1L244.5 1056.4L266.3 1054.2L273 1052.9L275.7 1051.9L277.8 1050.2L279.4 1048.1L287.8 1034.6L290.3 1031.2L294.1 1027.2L298.6 1024L304.9 1021.1L316.7 1017.4L320.7 1015.9L336.1 1007.8L342.9 1004.8L351.4 1002.2L365.7 998.7L382.9 995.5L398.6 993.2L412.9 991.7L430.3 990.6L437.4 990.5L444.3 991.1L449.7 992.3L456.1 994.7L463.3 998.9L469.9 1004.2L474.5 1009.5L479.2 1016.7L485.3 1028.2L490.5 1040.2L494 1051.3L495.9 1061.1L496.8 1072.2L496.8 1081.9L495.7 1093L493.7 1102.7L490.6 1112.4L486.9 1120.5L481.7 1129.5L475 1139.2L467.8 1148.1L460.8 1155.4L451.1 1163.7L440.6 1171.5L428.2 1179.4L417.6 1185L407.9 1189L398 1191.7L388.3 1193.1L375.8 1193.2L361.9 1192L346.7 1189.6L316.1 1183.6L300.8 1179.9L281.4 1174.3L270 1170.5L261.9 1167.4L253.6 1163.5L246.3 1158.7L240 1153L235.5 1147.5L231.2 1140.6L228.7 1134.5L227.3 1127.4Z" fill="#ff0000"/>
<path d="M272.6 1036.6C272.6 1037.6 272.5 1038.7 272.3 1039.6C272.1 1040.5 271.8 1041.3 271.5 1041.8C271.2 1042.3 270.8 1042.6 270.4 1042.6C270 1042.6 269.6 1042.3 269.3 1041.8C269 1041.3 268.7 1040.5 268.5 1039.6C268.3 1038.7 268.2 1037.6 268.2 1036.6C268.2 1035.6 268.3 1034.5 268.5 1033.6C268.7 1032.7 269 1031.9 269.3 1031.4C269.6 1030.9 270 1030.6 270.4 1030.6C270.8 1030.6 271.2 1030.9 271.5 1031.4C271.8 1031.9 272.1 1032.7 272.3 1033.6C272.5 1034.5 272.6 1035.6 272.6 1036.6Z" fill="#0000ff"/>
</g>
<path d="M170.9 1450.6V1439.6M214.8 1450.6V1439.6M258.6 1450.6V1439.6M302.5 1450.6V1431.6M346.4 1450.6V1439.6M390.2 1450.6V1439.6M434 1450.6V1439.6M477.9 1450.6V1431.6M521.8 1450.6V1439.6M565.6 1450.6V1439.6M609.5 1450.6V1439.6M653.3 1450.6V1431.6M697.2 1450.6V1439.6M741 1450.6V1439.6M784.9 1450.6V1439.6M125.4 1407.4H137.9M125.4 1363.5H137.9M125.4 1319.7H137.9M125.4 1275.8H137.9M125.4 1232H137.9M125.4 1188.1H137.9M125.4 1144.2H137.9M125.4 1100.4H137.9M125.4 1056.5H137.9M125.4 1012.7H137.9M125.4 968.9H137.9M125.4 925H137.9M125.4 881.1H137.9M125.4 837.3H137.9M125.4 793.5H137.9" stroke="#000" stroke-width="1.5" fill="none"/>
<rect x="125.4" y="748.1" width="701.8" height="702.5" fill="none" stroke="#000" stroke-width="3.6"/>
<path d="M126.2 924.2H212.4V1275.2H126.2Z" fill="#808080"/>
<path d="M123.6 924.2H212.4V1275.2H123.6" fill="none" stroke="#000" stroke-width="1.7"/>
<rect x="212.4" y="1029.7" width="54.7" height="14.9" fill="#808080" stroke="#000" stroke-width="1.8"/>
<rect x="258.4" y="1028.8" width="9.6" height="16.7" fill="#000"/>
<path d="M260.5 1031.3h4.2v1.4h-1v8.9h1v1.4h-4.2v-1.4h1v-8.9h-1z" fill="#dfe5ee"/>
<rect x="205.8" y="1048.8" width="5.6" height="108.4" fill="#fbe5d6"/>
<path d="M211.4 1049.4H205V1156.6H211.4" fill="none" stroke="#000" stroke-width="2.3" stroke-dasharray="6.1 2.3"/>
<path d="M212.4 1048.8V1157.2" fill="none" stroke="#000" stroke-width="1.7"/>
<path d="M211.5 1057.8V1154.2" fill="none" stroke="#fbe5d6" stroke-width="2.0" stroke-dasharray="1.6 6.8"/>
<path d="M180.1 1036.9H244.6" stroke="#d6dce5" stroke-width="3.0" fill="none"/>
<path d="M258.6 1036.9L239.1 1030.8L239.1 1043Z" fill="#d6dce5"/>
<text x="179.8" y="1027.2" font-size="34" font-weight="bold" fill="#d0d8e8">e<tspan dy="-11.5" dx="0.5" font-size="27">-</tspan></text>
<text x="138" y="1115.9" font-size="35" font-weight="bold" fill="#fbe5d6">Xe<tspan dy="-11" dx="0.5" font-size="27" font-weight="normal">+</tspan></text>
</g>
<g id="panel4">
<g clip-path="url(#cp4)" shape-rendering="geometricPrecision">
<rect x="895.2" y="747.9" width="700.7" height="701.5" fill="#005dff"/>
<path d="M988.2 1126.7L988.2 1061.8L988.9 1055.8L990.8 1052.7L991.5 1052.2L993 1051.7L997.8 1051.2L1024 1050.8L1035 1050.3L1040.7 1049.7L1044.1 1048.7L1054 1042.5L1058.3 1040.8L1063.8 1039.2L1074.5 1037.1L1090.4 1034.6L1114.1 1031.9L1149.4 1029.5L1203 1027.1L1252.2 1026.2L1282.3 1026.2L1295.7 1026.7L1348.7 1030L1421.1 1034.8L1502.9 1039.2L1532.4 1041.4L1546.6 1043L1555.9 1044.8L1563.9 1047.1L1567.5 1048.7L1571 1050.6L1575.1 1053.9L1576.8 1055.9L1579.1 1059.1L1582.7 1066.6L1585.7 1075.9L1587.5 1084.6L1588.8 1094.8L1589 1103.3L1588.4 1115.1L1587.2 1124.8L1585.3 1132.8L1583 1139.3L1579.7 1145.5L1577.1 1148.8L1573 1152.4L1568.4 1155.1L1562.3 1157.6L1555.4 1159.6L1548.7 1160.9L1528.2 1163.3L1488.5 1165.9L1450.8 1167.5L1394.3 1168.7L1314.1 1169.7L1279.6 1168.6L1137.8 1165.7L1072.6 1163.3L1028.2 1160.9L1011.8 1159.6L1001.1 1158.4L996.7 1157.1L993.1 1155L990.5 1151.9L989.3 1149.8L988.7 1147.8L988.2 1140.6Z" fill="#00b9ff"/>
<path d="M997.8 1110L998.5 1079.4L999 1073.3L999.7 1069.8L1001.5 1066.7L1004.3 1064.1L1007.3 1063L1012.7 1062.2L1020.7 1062L1026.4 1062.3L1035.7 1063.3L1037.3 1063.7L1038.8 1064.4L1040.7 1064.7L1057.3 1064.7L1071.2 1065.6L1085.1 1067.4L1103.2 1070.7L1111.5 1072.8L1119.8 1075.3L1132.5 1079.5L1142.2 1083.1L1150.3 1086.6L1156.8 1089.8L1161.8 1092.8L1165 1095.3L1167.2 1098.4L1167.7 1100.6L1166.6 1104.1L1164.3 1107.1L1160.5 1110.6L1154.9 1114.3L1148.6 1117.7L1140.2 1121.3L1130.5 1125L1119.3 1128.8L1108.2 1132.2L1099.8 1134.3L1073.4 1139.5L1062.3 1141.1L1049.8 1142.4L1028.6 1143.9L1018.9 1144.1L1010.7 1143.3L1007.6 1142.6L1005.1 1141.6L1004 1140.8L1002.2 1138.9L1000.9 1136.4L999.6 1132.7L998.5 1124.4Z" fill="#00ffe8"/>
<path d="M1044.5 1035.8C1044.5 1036.6 1044.4 1037.6 1044.3 1038.3C1044.1 1039 1043.9 1039.7 1043.6 1040.1C1043.3 1040.5 1043 1040.8 1042.7 1040.8C1042.4 1040.8 1042.1 1040.5 1041.8 1040.1C1041.5 1039.7 1041.3 1039 1041.1 1038.3C1041 1037.6 1040.9 1036.6 1040.9 1035.8C1040.9 1035 1041 1034 1041.1 1033.3C1041.3 1032.6 1041.5 1031.9 1041.8 1031.5C1042.1 1031.1 1042.4 1030.8 1042.7 1030.8C1043 1030.8 1043.3 1031.1 1043.6 1031.5C1043.9 1031.9 1044.1 1032.6 1044.3 1033.3C1044.4 1034 1044.5 1035 1044.5 1035.8Z" fill="#0000ff"/>
</g>
<path d="M940.1 1449.4V1438.4M983.9 1449.4V1438.4M1027.8 1449.4V1438.4M1071.6 1449.4V1430.4M1115.5 1449.4V1438.4M1159.3 1449.4V1438.4M1203.2 1449.4V1438.4M1247 1449.4V1430.4M1290.9 1449.4V1438.4M1334.7 1449.4V1438.4M1378.6 1449.4V1438.4M1422.4 1449.4V1430.4M1466.2 1449.4V1438.4M1510.1 1449.4V1438.4M1554 1449.4V1438.4M895.2 1407.2H907.7M895.2 1363.3H907.7M895.2 1319.5H907.7M895.2 1275.6H907.7M895.2 1231.8H907.7M895.2 1187.9H907.7M895.2 1144H907.7M895.2 1100.2H907.7M895.2 1056.3H907.7M895.2 1012.5H907.7M895.2 968.6H907.7M895.2 924.8H907.7M895.2 880.9H907.7M895.2 837.1H907.7M895.2 793.2H907.7" stroke="#000" stroke-width="1.5" fill="none"/>
<rect x="895.2" y="747.9" width="700.7" height="701.5" fill="none" stroke="#000" stroke-width="3.4"/>
<path d="M896 925.6H980.2V1277.4H896Z" fill="#808080"/>
<path d="M893.4 925.6H980.2V1277.4H893.4" fill="none" stroke="#000" stroke-width="1.7"/>
<rect x="980.2" y="1031.7" width="54.9" height="14.9" fill="#808080" stroke="#000" stroke-width="1.8"/>
<rect x="1026.4" y="1030.8" width="9.6" height="16.7" fill="#000"/>
<path d="M1028.5 1033.3h4.2v1.4h-1v8.9h1v1.4h-4.2v-1.4h1v-8.9h-1z" fill="#dfe5ee"/>
<rect x="973.6" y="1050.8" width="5.6" height="108.4" fill="#fbe5d6"/>
<path d="M979.2 1051.4H972.8V1158.6H979.2" fill="none" stroke="#000" stroke-width="2.3" stroke-dasharray="6.1 2.3"/>
<path d="M980.2 1050.8V1159.2" fill="none" stroke="#000" stroke-width="1.7"/>
<path d="M979.3 1059.8V1156.2" fill="none" stroke="#fbe5d6" stroke-width="2.0" stroke-dasharray="1.6 6.8"/>
<path d="M947.9 1038.9H1012.6" stroke="#d6dce5" stroke-width="3.0" fill="none"/>
<path d="M1026.6 1038.9L1007.1 1032.8L1007.1 1045Z" fill="#d6dce5"/>
<text x="947.6" y="1029.2" font-size="34" font-weight="bold" fill="#d0d8e8">e<tspan dy="-11.5" dx="0.5" font-size="27">-</tspan></text>
<text x="908.4" y="1117.3" font-size="35" font-weight="bold" fill="#fbe5d6">Xe<tspan dy="-11" dx="0.5" font-size="27" font-weight="normal">+</tspan></text>
</g>
<text class="tk" x="106.8" y="711.7" text-anchor="end">0.0</text>
<text class="tk" x="106.8" y="626.4" text-anchor="end">0.1</text>
<text class="tk" x="106.8" y="541.1" text-anchor="end">0.2</text>
<text class="tk" x="106.8" y="455.8" text-anchor="end">0.3</text>
<text class="tk" x="106.8" y="370.5" text-anchor="end">0.4</text>
<text class="tk" x="106.8" y="285.2" text-anchor="end">0.5</text>
<text class="tk" x="106.8" y="199.9" text-anchor="end">0.6</text>
<text class="tk" x="106.8" y="114.6" text-anchor="end">0.7</text>
<text class="tk" x="106.8" y="29.3" text-anchor="end">0.8</text>
<text class="tk" x="106.8" y="1454" text-anchor="end">0.0</text>
<text class="tk" x="106.8" y="1368.7" text-anchor="end">0.1</text>
<text class="tk" x="106.8" y="1283.4" text-anchor="end">0.2</text>
<text class="tk" x="106.8" y="1198.1" text-anchor="end">0.3</text>
<text class="tk" x="106.8" y="1112.8" text-anchor="end">0.4</text>
<text class="tk" x="106.8" y="1027.5" text-anchor="end">0.5</text>
<text class="tk" x="106.8" y="942.2" text-anchor="end">0.6</text>
<text class="tk" x="106.8" y="856.9" text-anchor="end">0.7</text>
<text class="tk" x="106.8" y="771.6" text-anchor="end">0.8</text>
<text class="tk" x="121.3" y="1499.5" text-anchor="middle">0.0</text>
<text class="tk" x="208.9" y="1499.5" text-anchor="middle">0.1</text>
<text class="tk" x="296.5" y="1499.5" text-anchor="middle">0.2</text>
<text class="tk" x="384.1" y="1499.5" text-anchor="middle">0.3</text>
<text class="tk" x="471.7" y="1499.5" text-anchor="middle">0.4</text>
<text class="tk" x="559.3" y="1499.5" text-anchor="middle">0.5</text>
<text class="tk" x="646.9" y="1499.5" text-anchor="middle">0.6</text>
<text class="tk" x="734.5" y="1499.5" text-anchor="middle">0.7</text>
<text class="tk" x="822.1" y="1499.5" text-anchor="middle">0.8</text>
<text class="tk" x="896" y="1499.5" text-anchor="middle">0.0</text>
<text class="tk" x="983.7" y="1499.5" text-anchor="middle">0.1</text>
<text class="tk" x="1071.4" y="1499.5" text-anchor="middle">0.2</text>
<text class="tk" x="1159.1" y="1499.5" text-anchor="middle">0.3</text>
<text class="tk" x="1246.8" y="1499.5" text-anchor="middle">0.4</text>
<text class="tk" x="1334.5" y="1499.5" text-anchor="middle">0.5</text>
<text class="tk" x="1422.2" y="1499.5" text-anchor="middle">0.6</text>
<text class="tk" x="1509.9" y="1499.5" text-anchor="middle">0.7</text>
<text class="tk" x="1597.6" y="1499.5" text-anchor="middle">0.8</text>
<text class="ax" x="441" y="1544"><tspan font-style="italic">z</tspan>/m</text>
<text class="ax" x="1210" y="1544"><tspan font-style="italic">z</tspan>/m</text>
<text class="ax" transform="translate(29 392.5) rotate(-90)"><tspan font-style="italic">y</tspan>/m</text>
<text class="ax" transform="translate(29 1136) rotate(-90)"><tspan font-style="italic">y</tspan>/m</text>
<rect x="143.4" y="16.8" width="164.2" height="74" fill="#fff" stroke="#000" stroke-width="2.5"/>
<text class="lb" x="166.2" y="69.6" font-size="44.5" textLength="116.7" lengthAdjust="spacingAndGlyphs">2B-BP</text>
<rect x="912.4" y="21.8" width="203" height="73.7" fill="#fff" stroke="#000" stroke-width="2.5"/>
<text class="lb" x="935.2" y="74.2" font-size="44.5" textLength="154.3" lengthAdjust="spacingAndGlyphs">2B-ACC</text>
<rect x="143.5" y="766.2" width="181" height="73.6" fill="#fff" stroke="#000" stroke-width="2.5"/>
<text class="lb" x="166.1" y="819.1" font-size="44.5" textLength="133.9" lengthAdjust="spacingAndGlyphs">2B-NM</text>
<rect x="912.5" y="767.3" width="166.5" height="74" fill="#fff" stroke="#000" stroke-width="2.5"/>
<text class="lb" x="935.1" y="820.4" font-size="44.5" textLength="119.4" lengthAdjust="spacingAndGlyphs">2B-NP</text>
<path d="M406.3 92.4L285.1 268.1" stroke="#fff" stroke-width="3" fill="none"/>
<path d="M274.6 283.3L278.8 261.3L293.6 271.5Z" fill="#fff"/>
<path d="M381.7 613L231.3 417.7" stroke="#fff" stroke-width="3" fill="none"/>
<path d="M220 403L239.6 413.8L225.4 424.7Z" fill="#fff"/>
<path d="M1170.3 92.5L1049.8 268.5" stroke="#fff" stroke-width="3" fill="none"/>
<path d="M1039.4 283.8L1043.5 261.8L1058.4 272Z" fill="#fff"/>
<path d="M1146.2 612.5L995.3 416.9" stroke="#fff" stroke-width="3" fill="none"/>
<path d="M984 402.3L1003.6 413L989.4 424Z" fill="#fff"/>
<path d="M402.7 844.6L282.9 1020.5" stroke="#fff" stroke-width="3" fill="none"/>
<path d="M272.5 1035.8L276.6 1013.8L291.5 1023.9Z" fill="#fff"/>
<path d="M380.3 1363.8L228.9 1169.3" stroke="#fff" stroke-width="3" fill="none"/>
<path d="M217.5 1154.7L237.2 1165.3L223 1176.4Z" fill="#fff"/>
<path d="M1169.4 839.6L1049.1 1015.5" stroke="#fff" stroke-width="3" fill="none"/>
<path d="M1038.7 1030.8L1042.8 1008.8L1057.7 1019Z" fill="#fff"/>
<path d="M1146.2 1359.6L994.5 1164.3" stroke="#fff" stroke-width="3" fill="none"/>
<path d="M983.2 1149.7L1002.9 1160.4L988.7 1171.4Z" fill="#fff"/>
<text class="an" x="426.8" y="106.7" font-size="43.5" font-style="italic" textLength="26.9" lengthAdjust="spacingAndGlyphs">V</text>
<text class="an2" x="426.8" y="106.7" font-size="43.5" font-style="italic" textLength="26.9" lengthAdjust="spacingAndGlyphs">V</text>
<text class="an" x="456" y="114.8" font-size="33" textLength="36.8" lengthAdjust="spacingAndGlyphs">ne</text>
<text class="an" x="507" y="109.1" font-size="46" textLength="29.6" lengthAdjust="spacingAndGlyphs">=</text>
<text class="an" x="547.6" y="107.3" font-size="44.5" textLength="23" lengthAdjust="spacingAndGlyphs">0</text>
<text class="an" x="579.2" y="107" font-size="43.5" textLength="32.8" lengthAdjust="spacingAndGlyphs">V</text>
<text class="an" x="405" y="627.5" font-size="43.5" font-style="italic" textLength="26" lengthAdjust="spacingAndGlyphs">V</text>
<text class="an2" x="405" y="627.5" font-size="43.5" font-style="italic" textLength="26" lengthAdjust="spacingAndGlyphs">V</text>
<text class="an" x="433.3" y="636.5" font-size="33" textLength="28.7" lengthAdjust="spacingAndGlyphs">th</text>
<text class="an" x="478.7" y="629.9" font-size="46" textLength="28.7" lengthAdjust="spacingAndGlyphs">=</text>
<text class="an" x="520" y="628.1" font-size="44.5" textLength="22.3" lengthAdjust="spacingAndGlyphs">0</text>
<text class="an" x="549.2" y="627.8" font-size="43.5" textLength="34.4" lengthAdjust="spacingAndGlyphs">V</text>
<text class="an" x="1190.4" y="106.7" font-size="43.5" font-style="italic" textLength="26.8" lengthAdjust="spacingAndGlyphs">V</text>
<text class="an2" x="1190.4" y="106.7" font-size="43.5" font-style="italic" textLength="26.8" lengthAdjust="spacingAndGlyphs">V</text>
<text class="an" x="1219.5" y="114.8" font-size="33" textLength="36.8" lengthAdjust="spacingAndGlyphs">ne</text>
<text class="an" x="1271.4" y="109.1" font-size="46" textLength="28.7" lengthAdjust="spacingAndGlyphs">=</text>
<text class="an" x="1311.9" y="107.3" font-size="44.5" textLength="23.1" lengthAdjust="spacingAndGlyphs">0</text>
<text class="an" x="1342.7" y="107" font-size="43.5" textLength="33.6" lengthAdjust="spacingAndGlyphs">V</text>
<text class="an" x="1168.7" y="627.5" font-size="43.5" font-style="italic" textLength="26" lengthAdjust="spacingAndGlyphs">V</text>
<text class="an2" x="1168.7" y="627.5" font-size="43.5" font-style="italic" textLength="26" lengthAdjust="spacingAndGlyphs">V</text>
<text class="an" x="1197" y="636.5" font-size="33" textLength="28.8" lengthAdjust="spacingAndGlyphs">th</text>
<text class="an" x="1242.4" y="629.9" font-size="46" textLength="28.8" lengthAdjust="spacingAndGlyphs">=</text>
<text class="an" x="1283" y="628.1" font-size="44.5" textLength="76.5" lengthAdjust="spacingAndGlyphs">-200</text>
<text class="an" x="1372" y="627.8" font-size="43.5" textLength="31.3" lengthAdjust="spacingAndGlyphs">V</text>
<text class="an" x="424.4" y="858.3" font-size="43.5" font-style="italic" textLength="26.8" lengthAdjust="spacingAndGlyphs">V</text>
<text class="an2" x="424.4" y="858.3" font-size="43.5" font-style="italic" textLength="26.8" lengthAdjust="spacingAndGlyphs">V</text>
<text class="an" x="453.6" y="866.5" font-size="33" textLength="36" lengthAdjust="spacingAndGlyphs">ne</text>
<text class="an" x="505.4" y="860.7" font-size="46" textLength="28.8" lengthAdjust="spacingAndGlyphs">=</text>
<text class="an" x="546" y="858.9" font-size="44.5" textLength="36" lengthAdjust="spacingAndGlyphs">-5</text>
<text class="an" x="591.3" y="858.6" font-size="43.5" textLength="32" lengthAdjust="spacingAndGlyphs">V</text>
<text class="an" x="402.8" y="1379.2" font-size="43.5" font-style="italic" textLength="25.3" lengthAdjust="spacingAndGlyphs">V</text>
<text class="an2" x="402.8" y="1379.2" font-size="43.5" font-style="italic" textLength="25.3" lengthAdjust="spacingAndGlyphs">V</text>
<text class="an" x="431.1" y="1388" font-size="33" textLength="28.8" lengthAdjust="spacingAndGlyphs">th</text>
<text class="an" x="476.5" y="1381.6" font-size="46" textLength="28.7" lengthAdjust="spacingAndGlyphs">=</text>
<text class="an" x="517.8" y="1379.8" font-size="44.5" textLength="22.3" lengthAdjust="spacingAndGlyphs">0</text>
<text class="an" x="547" y="1379.5" font-size="43.5" textLength="33.6" lengthAdjust="spacingAndGlyphs">V</text>
<text class="an" x="1190.4" y="853.3" font-size="43.5" font-style="italic" textLength="26.8" lengthAdjust="spacingAndGlyphs">V</text>
<text class="an2" x="1190.4" y="853.3" font-size="43.5" font-style="italic" textLength="26.8" lengthAdjust="spacingAndGlyphs">V</text>
<text class="an" x="1219.5" y="861.5" font-size="33" textLength="36.8" lengthAdjust="spacingAndGlyphs">ne</text>
<text class="an" x="1270.6" y="855.7" font-size="46" textLength="29.4" lengthAdjust="spacingAndGlyphs">=</text>
<text class="an" x="1311.9" y="853.9" font-size="44.5" textLength="22.2" lengthAdjust="spacingAndGlyphs">5</text>
<text class="an" x="1342.7" y="853.6" font-size="43.5" textLength="33.6" lengthAdjust="spacingAndGlyphs">V</text>
<text class="an" x="1168.7" y="1374.2" font-size="43.5" font-style="italic" textLength="26" lengthAdjust="spacingAndGlyphs">V</text>
<text class="an2" x="1168.7" y="1374.2" font-size="43.5" font-style="italic" textLength="26" lengthAdjust="spacingAndGlyphs">V</text>
<text class="an" x="1197" y="1383" font-size="33" textLength="28.8" lengthAdjust="spacingAndGlyphs">th</text>
<text class="an" x="1242.4" y="1376.6" font-size="46" textLength="28.8" lengthAdjust="spacingAndGlyphs">=</text>
<text class="an" x="1283" y="1374.8" font-size="44.5" textLength="23" lengthAdjust="spacingAndGlyphs">0</text>
<text class="an" x="1313" y="1374.5" font-size="43.5" textLength="33.6" lengthAdjust="spacingAndGlyphs">V</text>
<g id="legend">
<rect x="1629.4" y="356.5" width="211.6" height="726" fill="#fff" stroke="#000" stroke-width="3.2"/>
<rect x="1656.5" y="443.8" width="76" height="29.1" fill="#ff0000"/>
<rect x="1656.5" y="472.6" width="76" height="55.7" fill="#ff5d00"/>
<rect x="1656.5" y="528" width="76" height="55.7" fill="#ffb900"/>
<rect x="1656.5" y="583.4" width="76" height="55.7" fill="#e8ff00"/>
<rect x="1656.5" y="638.8" width="76" height="55.7" fill="#8bff00"/>
<rect x="1656.5" y="694.2" width="76" height="55.7" fill="#2eff00"/>
<rect x="1656.5" y="749.6" width="76" height="55.7" fill="#00ff2e"/>
<rect x="1656.5" y="805" width="76" height="55.7" fill="#00ff8b"/>
<rect x="1656.5" y="860.4" width="76" height="55.7" fill="#00ffe8"/>
<rect x="1656.5" y="915.8" width="76" height="55.7" fill="#00b9ff"/>
<rect x="1656.5" y="971.2" width="76" height="55.7" fill="#005dff"/>
<rect x="1656.5" y="1026.6" width="76" height="28.5" fill="#0000ff"/>
<path d="M1656.5 472.6H1732.5M1656.5 528H1732.5M1656.5 583.4H1732.5M1656.5 638.8H1732.5M1656.5 694.2H1732.5M1656.5 749.6H1732.5M1656.5 805H1732.5M1656.5 860.4H1732.5M1656.5 915.8H1732.5M1656.5 971.2H1732.5M1656.5 1026.6H1732.5" stroke="#000" stroke-opacity="0.55" stroke-width="1" fill="none"/>
<rect x="1656.5" y="443.8" width="76" height="611" fill="none" stroke="#000" stroke-opacity="0.45" stroke-width="1"/>
<text class="tk" style="font-size:44.5px" x="1783.8" y="492.3" text-anchor="middle">50</text>
<text class="tk" style="font-size:44.5px" x="1783.8" y="547.7" text-anchor="middle">45</text>
<text class="tk" style="font-size:44.5px" x="1783.8" y="603.1" text-anchor="middle">40</text>
<text class="tk" style="font-size:44.5px" x="1783.8" y="658.5" text-anchor="middle">35</text>
<text class="tk" style="font-size:44.5px" x="1783.8" y="713.9" text-anchor="middle">30</text>
<text class="tk" style="font-size:44.5px" x="1783.8" y="769.3" text-anchor="middle">25</text>
<text class="tk" style="font-size:44.5px" x="1783.8" y="824.7" text-anchor="middle">20</text>
<text class="tk" style="font-size:44.5px" x="1783.8" y="880.1" text-anchor="middle">15</text>
<text class="tk" style="font-size:44.5px" x="1783.8" y="935.5" text-anchor="middle">10</text>
<text class="tk" style="font-size:44.5px" x="1783.8" y="990.9" text-anchor="middle">5</text>
<text class="tk" style="font-size:44.5px" x="1783.8" y="1046.3" text-anchor="middle">0</text>
<text x="1651 1674.5 1708.5 1731 1756.5" y="417" font-size="46" font-weight="bold" font-style="italic" fill="#000">e&#981;/kT</text>
<text x="1783.5 1800.5" y="425.7" font-size="31" font-weight="bold" font-style="italic" fill="#000">e0</text>
</g>
</svg></body></html>
